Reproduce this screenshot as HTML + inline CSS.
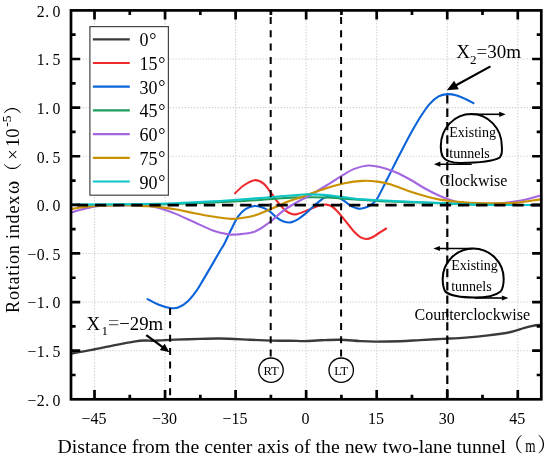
<!DOCTYPE html><html><head><meta charset="utf-8"><style>html,body{margin:0;padding:0;background:#fff;}svg{display:block;}text{font-family:"Liberation Serif","Noto Serif CJK SC",serif;fill:#000;}</style></head><body>
<svg width="550" height="458" viewBox="0 0 550 458">
<rect x="0" y="0" width="550" height="458" fill="#fff"/>
<path d="M94.52,11.10V397.80M165.06,11.10V397.80M235.60,11.10V397.80M306.15,11.10V397.80M376.69,11.10V397.80M447.24,11.10V397.80M517.78,11.10V397.80M70.60,59.01H539.80M70.60,107.63H539.80M70.60,156.24H539.80M70.60,204.85H539.80M70.60,253.46H539.80M70.60,302.07H539.80M70.60,350.69H539.80" stroke="#d2d2d2" stroke-width="1.1" stroke-dasharray="1.4 1.6" fill="none"/>
<g fill="none" stroke-width="2.1" stroke-linecap="round" stroke-linejoin="round">
<path d="M71.00,353.60 C74.47,352.98 84.70,351.27 91.80,349.90 C98.90,348.53 106.32,346.82 113.60,345.40 C120.88,343.98 130.27,342.22 135.50,341.40 C140.73,340.58 142.25,340.62 145.00,340.50 C147.75,340.38 149.50,340.72 152.00,340.70 C154.50,340.68 156.17,340.58 160.00,340.40 C163.83,340.22 168.33,339.85 175.00,339.60 C181.67,339.35 192.50,339.08 200.00,338.90 C207.50,338.72 211.67,338.37 220.00,338.50 C228.33,338.63 241.67,339.35 250.00,339.70 C258.33,340.05 263.33,340.43 270.00,340.60 C276.67,340.77 284.17,340.62 290.00,340.70 C295.83,340.78 300.00,341.17 305.00,341.10 C310.00,341.03 314.17,340.53 320.00,340.30 C325.83,340.07 333.33,339.57 340.00,339.70 C346.67,339.83 354.17,340.78 360.00,341.10 C365.83,341.42 368.33,341.58 375.00,341.60 C381.67,341.62 392.50,341.45 400.00,341.20 C407.50,340.95 412.88,340.48 420.00,340.10 C427.12,339.72 435.12,339.32 442.70,338.90 C450.28,338.48 457.92,338.18 465.50,337.60 C473.08,337.02 480.63,336.33 488.20,335.40 C495.77,334.47 504.85,333.27 510.90,332.00 C516.95,330.73 520.33,328.92 524.50,327.80 C528.67,326.68 533.15,325.77 535.90,325.30 C538.65,324.83 540.15,325.05 541.00,325.00" stroke="#3a3a3a" stroke-width="2.4"/>
<path d="M235.10,193.20 C236.52,191.92 240.37,187.67 243.60,185.50 C246.83,183.33 251.17,180.52 254.50,180.20 C257.83,179.88 260.87,181.52 263.60,183.60 C266.33,185.68 268.47,189.52 270.90,192.70 C273.33,195.88 275.77,199.72 278.20,202.70 C280.63,205.68 283.08,208.68 285.50,210.60 C287.92,212.52 290.62,213.67 292.70,214.20 C294.78,214.73 295.42,214.50 298.00,213.80 C300.58,213.10 304.68,211.38 308.20,210.00 C311.72,208.62 316.07,206.40 319.10,205.50 C322.13,204.60 324.25,204.43 326.40,204.60 C328.55,204.77 330.15,205.35 332.00,206.50 C333.85,207.65 335.62,209.53 337.50,211.50 C339.38,213.47 341.37,215.97 343.30,218.30 C345.23,220.63 347.17,223.12 349.10,225.50 C351.03,227.88 352.97,230.62 354.90,232.60 C356.83,234.58 358.77,236.33 360.70,237.40 C362.63,238.47 364.55,239.03 366.50,239.00 C368.45,238.97 370.45,238.12 372.40,237.20 C374.35,236.28 375.90,234.95 378.20,233.50 C380.50,232.05 384.87,229.33 386.20,228.50" stroke="#ee2a2e"/>
<path d="M147.60,299.10 C149.37,300.00 154.47,303.02 158.20,304.50 C161.93,305.98 166.67,307.48 170.00,308.00 C173.33,308.52 175.32,308.63 178.20,307.60 C181.08,306.57 184.27,304.58 187.30,301.80 C190.33,299.02 193.68,294.68 196.40,290.90 C199.12,287.12 200.88,283.65 203.60,279.10 C206.32,274.55 209.97,268.30 212.70,263.60 C215.43,258.90 218.03,254.25 220.00,250.90 C221.97,247.55 222.68,246.98 224.50,243.50 C226.32,240.02 228.62,234.52 230.90,230.00 C233.18,225.48 235.77,219.88 238.20,216.40 C240.63,212.92 242.78,210.83 245.50,209.10 C248.22,207.37 251.78,206.30 254.50,206.00 C257.22,205.70 259.37,206.48 261.80,207.30 C264.23,208.12 266.67,209.23 269.10,210.90 C271.53,212.57 273.98,215.53 276.40,217.30 C278.82,219.07 281.18,220.65 283.60,221.50 C286.02,222.35 288.47,222.80 290.90,222.40 C293.33,222.00 295.85,220.50 298.20,219.10 C300.55,217.70 302.73,215.88 305.00,214.00 C307.27,212.12 309.32,209.98 311.80,207.80 C314.28,205.62 317.70,202.60 319.90,200.90 C322.10,199.20 322.82,198.32 325.00,197.60 C327.18,196.88 330.42,196.43 333.00,196.60 C335.58,196.77 338.27,197.60 340.50,198.60 C342.73,199.60 344.43,201.27 346.40,202.60 C348.37,203.93 350.33,205.60 352.30,206.60 C354.27,207.60 356.42,208.32 358.20,208.60 C359.98,208.88 361.03,208.82 363.00,208.30 C364.97,207.78 367.72,206.98 370.00,205.50 C372.28,204.02 374.28,202.90 376.70,199.40 C379.12,195.90 382.28,188.80 384.50,184.50 C386.72,180.20 387.95,177.70 390.00,173.60 C392.05,169.50 394.45,164.52 396.80,159.90 C399.15,155.28 401.67,150.50 404.10,145.90 C406.53,141.30 408.67,137.15 411.40,132.30 C414.13,127.45 417.48,121.50 420.50,116.80 C423.52,112.10 426.48,107.52 429.50,104.10 C432.52,100.68 435.60,97.97 438.60,96.30 C441.60,94.63 444.47,94.23 447.50,94.10 C450.53,93.97 453.73,94.65 456.80,95.50 C459.87,96.35 463.13,97.92 465.90,99.20 C468.67,100.48 472.15,102.53 473.40,103.20" stroke="#0a63d8"/>
<path d="M71.00,205.00 C77.50,205.00 96.83,205.07 110.00,205.00 C123.17,204.93 135.00,204.93 150.00,204.60 C165.00,204.27 186.67,203.48 200.00,203.00 C213.33,202.52 220.75,202.15 230.00,201.70 C239.25,201.25 247.02,200.87 255.50,200.30 C263.98,199.73 273.48,198.78 280.90,198.30 C288.32,197.82 292.42,197.53 300.00,197.40 C307.58,197.27 318.98,197.28 326.40,197.50 C333.82,197.72 338.45,198.30 344.50,198.70 C350.55,199.10 355.12,199.43 362.70,199.90 C370.28,200.37 382.12,201.13 390.00,201.50 C397.88,201.87 401.67,201.83 410.00,202.10 C418.33,202.37 430.00,202.72 440.00,203.10 C450.00,203.48 460.00,204.08 470.00,204.40 C480.00,204.72 488.17,204.90 500.00,205.00 C511.83,205.10 534.17,205.00 541.00,205.00" stroke="#1d9e5a"/>
<path d="M71.00,212.70 C72.28,212.30 75.47,211.18 78.70,210.30 C81.93,209.42 87.02,208.13 90.40,207.40 C93.78,206.67 95.73,206.23 99.00,205.90 C102.27,205.57 104.83,205.50 110.00,205.40 C115.17,205.30 123.48,205.22 130.00,205.30 C136.52,205.38 143.50,205.20 149.10,205.90 C154.70,206.60 159.05,208.13 163.60,209.50 C168.15,210.87 171.25,211.97 176.40,214.10 C181.55,216.23 188.45,219.57 194.50,222.30 C200.55,225.03 207.23,228.53 212.70,230.50 C218.17,232.47 223.35,233.43 227.30,234.10 C231.25,234.77 231.87,234.88 236.40,234.50 C240.93,234.12 249.05,233.77 254.50,231.80 C259.95,229.83 264.55,226.03 269.10,222.70 C273.65,219.37 278.23,214.58 281.80,211.80 C285.37,209.02 287.47,207.88 290.50,206.00 C293.53,204.12 297.05,202.10 300.00,200.50 C302.95,198.90 303.80,198.90 308.20,196.40 C312.60,193.90 320.95,188.83 326.40,185.50 C331.85,182.17 336.37,179.13 340.90,176.40 C345.43,173.67 349.05,170.92 353.60,169.10 C358.15,167.28 363.65,165.80 368.20,165.50 C372.75,165.20 376.43,166.22 380.90,167.30 C385.37,168.38 390.15,169.97 395.00,172.00 C399.85,174.03 405.00,176.75 410.00,179.50 C415.00,182.25 420.00,185.75 425.00,188.50 C430.00,191.25 435.00,193.85 440.00,196.00 C445.00,198.15 450.00,200.17 455.00,201.40 C460.00,202.63 465.00,203.00 470.00,203.40 C475.00,203.80 480.00,203.80 485.00,203.80 C490.00,203.80 494.00,203.95 500.00,203.40 C506.00,202.85 514.50,201.73 521.00,200.50 C527.50,199.27 535.67,196.83 539.00,196.00 C542.33,195.17 540.67,195.58 541.00,195.50" stroke="#a466e0"/>
<path d="M71.00,209.10 C72.28,208.88 75.47,208.27 78.70,207.80 C81.93,207.33 86.85,206.67 90.40,206.30 C93.95,205.93 94.23,205.77 100.00,205.60 C105.77,205.43 116.92,205.18 125.00,205.30 C133.08,205.42 142.97,206.03 148.50,206.30 C154.03,206.57 153.55,206.37 158.20,206.90 C162.85,207.43 170.35,208.45 176.40,209.50 C182.45,210.55 188.45,212.03 194.50,213.20 C200.55,214.37 207.23,215.62 212.70,216.50 C218.17,217.38 223.35,218.13 227.30,218.50 C231.25,218.87 231.87,219.20 236.40,218.70 C240.93,218.20 248.45,217.25 254.50,215.50 C260.55,213.75 267.23,210.48 272.70,208.20 C278.17,205.92 283.08,203.45 287.30,201.80 C291.52,200.15 294.52,199.52 298.00,198.30 C301.48,197.08 303.47,196.18 308.20,194.50 C312.93,192.82 320.35,190.08 326.40,188.20 C332.45,186.32 338.45,184.42 344.50,183.20 C350.55,181.98 357.23,181.17 362.70,180.90 C368.17,180.63 372.75,181.03 377.30,181.60 C381.85,182.17 384.55,182.65 390.00,184.30 C395.45,185.95 404.17,189.55 410.00,191.50 C415.83,193.45 420.00,194.65 425.00,196.00 C430.00,197.35 432.50,198.45 440.00,199.60 C447.50,200.75 461.33,202.28 470.00,202.90 C478.67,203.52 484.50,203.30 492.00,203.30 C499.50,203.30 507.17,203.52 515.00,202.90 C522.83,202.28 534.67,200.20 539.00,199.60 C543.33,199.00 540.67,199.35 541.00,199.30" stroke="#c99000"/>
<path d="M71.00,204.60 C82.50,204.52 122.43,204.33 140.00,204.10 C157.57,203.87 164.28,203.65 176.40,203.20 C188.52,202.75 203.77,201.88 212.70,201.40 C221.63,200.92 222.87,200.80 230.00,200.30 C237.13,199.80 247.02,199.08 255.50,198.40 C263.98,197.72 273.48,196.82 280.90,196.20 C288.32,195.58 295.45,195.00 300.00,194.70 C304.55,194.40 303.80,194.33 308.20,194.40 C312.60,194.47 320.35,194.62 326.40,195.10 C332.45,195.58 338.45,196.58 344.50,197.30 C350.55,198.02 356.78,198.90 362.70,199.40 C368.62,199.90 372.12,199.90 380.00,200.30 C387.88,200.70 400.00,201.35 410.00,201.80 C420.00,202.25 430.00,202.57 440.00,203.00 C450.00,203.43 460.00,204.07 470.00,204.40 C480.00,204.73 488.17,204.90 500.00,205.00 C511.83,205.10 534.17,205.00 541.00,205.00" stroke="#0cc4c6"/>
</g>
<path d="M76.8,205.1H541" stroke="#000" stroke-width="2.6" stroke-dasharray="11.3 6.85" fill="none"/>
<g stroke="#000" stroke-width="2" fill="none">
<path d="M270.7,17V357.5" stroke-dasharray="7 6.3"/>
<path d="M341.1,17V357.5" stroke-dasharray="7 6.3"/>
<path d="M447.3,95.2V399" stroke-width="2.2" stroke-dasharray="8.4 4.95"/>
<path d="M170.1,307.9V399" stroke-dasharray="7 6.4"/>
</g>
<g stroke="#000" stroke-width="1.3" fill="#fff"><circle cx="271" cy="370.2" r="12.2"/><circle cx="341.2" cy="370.2" r="12.2"/></g>
<text x="271" y="374.6" font-size="12.5" text-anchor="middle">RT</text>
<text x="341.2" y="374.6" font-size="12.5" text-anchor="middle">LT</text>
<rect x="71.00" y="10.40" width="470.30" height="388.90" fill="none" stroke="#000" stroke-width="2.7"/>
<path d="M94.52,10.40V19.60M94.52,399.30V390.10M165.06,10.40V19.60M165.06,399.30V390.10M235.60,10.40V19.60M235.60,399.30V390.10M306.15,10.40V19.60M306.15,399.30V390.10M376.69,10.40V19.60M376.69,399.30V390.10M447.24,10.40V19.60M447.24,399.30V390.10M517.78,10.40V19.60M517.78,399.30V390.10M129.79,10.40V15.00M129.79,399.30V394.70M200.33,10.40V15.00M200.33,399.30V394.70M270.88,10.40V15.00M270.88,399.30V394.70M341.42,10.40V15.00M341.42,399.30V394.70M411.97,10.40V15.00M411.97,399.30V394.70M482.51,10.40V15.00M482.51,399.30V394.70M71.00,350.69H80.20M541.30,350.69H532.10M71.00,302.07H80.20M541.30,302.07H532.10M71.00,253.46H80.20M541.30,253.46H532.10M71.00,204.85H80.20M541.30,204.85H532.10M71.00,156.24H80.20M541.30,156.24H532.10M71.00,107.63H80.20M541.30,107.63H532.10M71.00,59.01H80.20M541.30,59.01H532.10M71.00,374.99H75.60M541.30,374.99H536.70M71.00,326.38H75.60M541.30,326.38H536.70M71.00,277.77H75.60M541.30,277.77H536.70M71.00,229.16H75.60M541.30,229.16H536.70M71.00,180.54H75.60M541.30,180.54H536.70M71.00,131.93H75.60M541.30,131.93H536.70M71.00,83.32H75.60M541.30,83.32H536.70M71.00,34.71H75.60M541.30,34.71H536.70" stroke="#000" stroke-width="2.7" fill="none"/>
<text y="16.80" font-size="15.8"><tspan x="36.70">2</tspan><tspan x="45.20">.</tspan><tspan x="52.50">0</tspan></text>
<text y="65.41" font-size="15.8"><tspan x="36.70">1</tspan><tspan x="45.20">.</tspan><tspan x="52.50">5</tspan></text>
<text y="114.03" font-size="15.8"><tspan x="36.70">1</tspan><tspan x="45.20">.</tspan><tspan x="52.50">0</tspan></text>
<text y="162.64" font-size="15.8"><tspan x="36.70">0</tspan><tspan x="45.20">.</tspan><tspan x="52.50">5</tspan></text>
<text y="211.25" font-size="15.8"><tspan x="36.70">0</tspan><tspan x="45.20">.</tspan><tspan x="52.50">0</tspan></text>
<text y="259.86" font-size="15.8"><tspan x="27.60">−</tspan><tspan x="36.70">0</tspan><tspan x="45.20">.</tspan><tspan x="52.50">5</tspan></text>
<text y="308.47" font-size="15.8"><tspan x="27.60">−</tspan><tspan x="36.70">1</tspan><tspan x="45.20">.</tspan><tspan x="52.50">0</tspan></text>
<text y="357.09" font-size="15.8"><tspan x="27.60">−</tspan><tspan x="36.70">1</tspan><tspan x="45.20">.</tspan><tspan x="52.50">5</tspan></text>
<text y="405.70" font-size="15.8"><tspan x="27.60">−</tspan><tspan x="36.70">2</tspan><tspan x="45.20">.</tspan><tspan x="52.50">0</tspan></text>
<text x="93.92" y="424.3" font-size="16" text-anchor="middle">−45</text>
<text x="164.46" y="424.3" font-size="16" text-anchor="middle">−30</text>
<text x="235.00" y="424.3" font-size="16" text-anchor="middle">−15</text>
<text x="305.55" y="424.3" font-size="16" text-anchor="middle">0</text>
<text x="376.09" y="424.3" font-size="16" text-anchor="middle">15</text>
<text x="446.64" y="424.3" font-size="16" text-anchor="middle">30</text>
<text x="517.18" y="424.3" font-size="16" text-anchor="middle">45</text>
<rect x="89.9" y="26.6" width="78.5" height="168.6" fill="#fff" stroke="#444" stroke-width="1.2"/>
<path d="M92.9,39.30H129.8" stroke="#3a3a3a" stroke-width="2.2"/>
<text x="139.6" y="46.30" font-size="18">0<tspan dx="0.6" dy="-0.4">°</tspan></text>
<path d="M92.9,63.00H129.8" stroke="#ee2a2e" stroke-width="2.2"/>
<text x="139.6" y="70.00" font-size="18">15<tspan dx="0.6" dy="-0.4">°</tspan></text>
<path d="M92.9,86.70H129.8" stroke="#0a63d8" stroke-width="2.2"/>
<text x="139.6" y="93.70" font-size="18">30<tspan dx="0.6" dy="-0.4">°</tspan></text>
<path d="M92.9,110.40H129.8" stroke="#1d9e5a" stroke-width="2.2"/>
<text x="139.6" y="117.40" font-size="18">45<tspan dx="0.6" dy="-0.4">°</tspan></text>
<path d="M92.9,134.10H129.8" stroke="#a466e0" stroke-width="2.2"/>
<text x="139.6" y="141.10" font-size="18">60<tspan dx="0.6" dy="-0.4">°</tspan></text>
<path d="M92.9,157.80H129.8" stroke="#c99000" stroke-width="2.2"/>
<text x="139.6" y="164.80" font-size="18">75<tspan dx="0.6" dy="-0.4">°</tspan></text>
<path d="M92.9,181.50H129.8" stroke="#0cc4c6" stroke-width="2.2"/>
<text x="139.6" y="188.50" font-size="18">90<tspan dx="0.6" dy="-0.4">°</tspan></text>
<text x="86.6" y="330" font-size="18.8">X<tspan font-size="13" dx="1.2" dy="5.4">1</tspan><tspan dy="-5.4" fill="#6a6a6a" font-size="20">=</tspan><tspan>−29m</tspan></text>
<text x="456.2" y="57.7" font-size="19">X<tspan font-size="13" dy="6.2">2</tspan><tspan dy="-6.2" fill="#3a3a3a">=</tspan><tspan>30m</tspan></text>
<path d="M146.30,335.10L162.97,347.44" stroke="#000" stroke-width="2.2"/><path d="M169.40,352.20L159.79,350.06L164.55,343.63Z" fill="#000"/>
<path d="M490.50,66.40L455.58,85.42" stroke="#000" stroke-width="2.2"/><path d="M446.80,90.20L454.16,80.72L458.76,89.15Z" fill="#000"/>
<path d="M440.8,146 A30.5,32 0 0 1 501.8,146 C502.3,151 501.6,155.5 499.6,157.6 C493,161.2 478,162.8 461,163 C452,163 445.5,161.2 442.6,156.5 C441.2,153.5 440.8,149.5 440.8,146 Z" stroke="#000" stroke-width="2" fill="none"/>
<path d="M470.00,114.30L500.20,114.30" stroke="#000" stroke-width="1.6"/><path d="M505.70,114.30L499.20,116.90L499.20,111.70Z" fill="#000"/>
<path d="M471.70,164.20L439.40,164.20" stroke="#000" stroke-width="1.6"/><path d="M433.90,164.20L440.40,161.60L440.40,166.80Z" fill="#000"/>
<text x="449.3" y="136.7" font-size="14">Existing</text>
<text x="449.3" y="157.5" font-size="14">tunnels</text>
<text x="439.7" y="185.5" font-size="16">Clockwise</text>
<path d="M442.7,279 A30.5,30.5 0 0 1 503.7,279 C503.6,285 502.6,289.3 500.6,291.4 C496,295.2 486,297.5 474.4,297.5 C462,297.5 451.5,296.5 445.3,291.6 C443.2,288 442.7,283 442.7,279 Z" stroke="#000" stroke-width="2" fill="none"/>
<path d="M472.80,248.50L438.90,248.50" stroke="#000" stroke-width="1.6"/><path d="M433.40,248.50L439.90,245.90L439.90,251.10Z" fill="#000"/>
<path d="M474.40,298.00L502.90,298.00" stroke="#000" stroke-width="1.6"/><path d="M508.40,298.00L501.90,300.60L501.90,295.40Z" fill="#000"/>
<text x="451.2" y="270.1" font-size="14">Existing</text>
<text x="451.2" y="290.5" font-size="14">tunnels</text>
<text x="414.5" y="320.1" font-size="16">Counterclockwise</text>
<text x="57.6" y="452.6" font-size="19.78">Distance from the center axis of the new two-lane tunnel</text>
<text x="503.5" y="452.2" font-size="19.5" font-family="Noto Serif CJK SC, serif">（</text>
<text x="537.3" y="452.2" font-size="19.5" font-family="Noto Serif CJK SC, serif">）</text>
<text transform="translate(525.3,452.4) scale(0.78,1.08)" font-size="17">m</text>
<g transform="translate(18.6,313) rotate(-90)"><text font-size="18.2" letter-spacing="0.75">Rotation index</text><text x="119.0" font-size="20">ω</text><text x="132.3" font-size="18" font-family="Noto Serif CJK SC, serif">（</text><text x="153.2" font-size="18.5">×</text><text x="166.0" font-size="18.5">10</text><text x="186.3" y="-7.2" font-size="13.5">-5</text><text x="198.7" font-size="18" font-family="Noto Serif CJK SC, serif">）</text></g>
</svg></body></html>
